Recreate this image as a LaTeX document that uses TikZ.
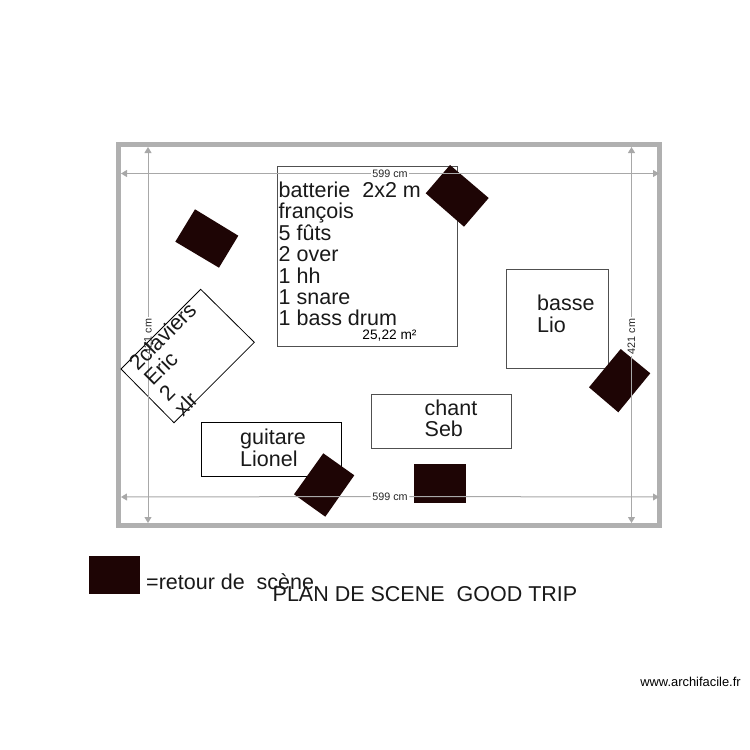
\documentclass[tikz,border=0pt]{standalone}
\usepackage{fontspec}
\setmainfont{Liberation Sans}
\usetikzlibrary{arrows.meta,positioning}
\definecolor{wallgray}{HTML}{B0B0B0}
\definecolor{dimgray}{HTML}{A8A8A8}
\definecolor{monitordark}{HTML}{1E0505}
\definecolor{boxgray}{HTML}{505050}
\tikzset{
  dimlabel/.style={inner sep=1.5pt,font=\fontsize{10.8}{12}\selectfont,text=black!85},
  roomlabel/.style={inner sep=0pt,align=left,font=\fontsize{21.5}{21.4}\selectfont,text=black!90},
  monitorbox/.style={fill=monitordark,draw=none},
  zonebox/.style={draw=boxgray,line width=1pt}
}
\begin{document}
\begin{tikzpicture}[x=1pt,y=-1pt]
\useasboundingbox (0,0) rectangle (750,750);

% walls
\draw[wallgray,line width=5pt] (118.5,144.5) rectangle (659.5,525.5);

% zones
\draw[zonebox] (277.7,166.7) rectangle (457.3,346);
\draw[zonebox] (506.7,269) rectangle (608.7,368.7);
\draw[zonebox] (371.3,394.3) rectangle (511,448.7);
\draw[black,line width=.8pt] (201.7,422.3) rectangle (341,476.3);
\draw[black,line width=.8pt] (200.7,289.3) -- (254.3,342.3) -- (174,422.7) -- (121,369) -- cycle;

% monitors
\fill[monitorbox] (195,209.3) -- (238.3,235.7) -- (219,267.7) -- (175.3,241.7) -- cycle;
\fill[monitorbox] (450,165) -- (488.7,198) -- (464,226.7) -- (425.7,193.3) -- cycle;
\fill[monitorbox] (620.7,349) -- (650.3,373.3) -- (618.3,412.3) -- (589,387.3) -- cycle;
\fill[monitorbox] (323.3,453.3) -- (354.3,475.3) -- (325.3,516.7) -- (294,494.3) -- cycle;
\fill[monitorbox] (414.3,464) rectangle (465.7,502.7);
\fill[monitorbox] (89,556) rectangle (140.3,594.3);

% dimensions
\node (dimtop) at (390,173.5) [dimlabel] {599 cm};
\node (dimbot) at (390,496.5) [dimlabel] {599 cm};
\node (dimleft) at (148,336.5) [dimlabel,rotate=90] {421 cm};
\node (dimright) at (631.5,336.5) [dimlabel,rotate=90] {421 cm};
\coordinate (topl) at (121,173.5);
\coordinate (topr) at (659,173.5);
\coordinate (botl) at (121,497);
\coordinate (botr) at (659,497);
\coordinate (leftt) at (148,147);
\coordinate (leftb) at (148,523);
\coordinate (rightt) at (631.5,147);
\coordinate (rightb) at (631.5,523);
\foreach \a/\b in {topl/dimtop,topr/dimtop,botl/dimbot,botr/dimbot,leftt/dimleft,leftb/dimleft,rightt/dimright,rightb/dimright} {
\draw[draw=dimgray,line width=1pt,{Triangle[width=7pt,length=6pt,fill=dimgray]}-] (\a) -- (\b);
}

% labels
\node (batterie) at (278.5,181.7) [roomlabel,anchor=north west] {batterie\ \ 2x2 m\\françois\\5 fûts\\2 over\\1 hh\\1 snare\\1 bass drum};
\node (surface) at (389.5,335.7) [font=\fontsize{13.7}{15}\selectfont,inner sep=0pt] {25,22 m²};
\node (basse) at (537,295) [roomlabel,anchor=north west] {basse\\Lio};
\node (chant) at (424.5,399.8) [roomlabel,anchor=north west] {chant\\Seb};
\node (guitare) at (240,429) [roomlabel,anchor=north west] {guitare\\Lionel};
\node (claviers) at (185,359) [roomlabel,rotate=45] {2claviers\\Eric\\2\\xlr};
\node (legend) at (146,573.3) [roomlabel,anchor=north west] {=retour de\ \ scène};
\node (title) at (425,594.3) [font=\fontsize{21.5}{21.4}\selectfont,inner sep=0pt,text=black!90] {PLAN DE SCENE\ \ GOOD TRIP};
\node (site) at (690.5,682) [font=\fontsize{12.9}{14}\selectfont,inner sep=0pt] {www.archifacile.fr};
\end{tikzpicture}
\end{document}
